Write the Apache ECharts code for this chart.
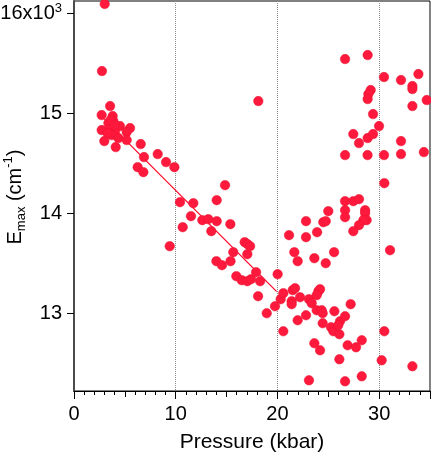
<!DOCTYPE html>
<html>
<head>
<meta charset="utf-8">
<script src="https://cdn.jsdelivr.net/npm/echarts@6/dist/echarts.min.js"></script>
<style>
html,body{margin:0;padding:0;background:#fff;}
#chart{width:431px;height:453px;}
</style>
</head>
<body>
<div id="chart"></div>
<script>
// Pressure (kbar)
var pressure = [
  3.02,2.75,3.55,2.72,3.80,3.38,3.87,2.72,3.54,4.52,4.03,5.51,5.18,3.70,4.36,2.98,4.10,5.18,6.56,6.88,8.23,9.05,9.87,6.26,6.82,3.60,4.00,3.30,
  10.42,11.73,14.03,14.85,11.50,10.69,12.62,13.20,14.03,13.50,15.37,9.41,16.78,17.06,17.31,15.66,17.04,14.00,14.55,15.39,15.96,16.49,17.04,17.40,17.90,18.30,18.10,20.02,20.32,20.58,19.76,18.95,20.58,18.12,
  21.50,21.73,21.40,21.40,22.22,23.10,23.37,24.03,24.19,23.86,23.86,24.35,24.45,25.60,27.20,22.81,21.99,24.45,25.27,25.50,26.09,26.15,25.98,26.65,23.63,24.19,26.90,27.73,28.29,26.09,30.51,30.25,33.27,23.10,26.65,28.29,
  21.14,21.66,21.99,22.81,22.81,23.63,23.90,24.51,24.75,25.00,24.75,25.57,26.65,27.46,28.02,26.65,26.65,28.62,28.62,28.77,28.45,28.02,27.46,31.07,30.51,
  26.65,28.86,30.48,32.15,34.40,32.15,27.46,28.02,28.87,29.40,29.99,29.40,29.17,28.94,28.87,26.65,28.87,30.48,32.15,33.27,33.27,33.86,34.68,33.27
];
// Emax (x10^3 cm^-1)
var emax = [
  16.09,15.42,15.07,14.98,14.97,14.90,14.92,14.83,14.85,14.87,14.82,14.85,14.81,14.78,14.75,14.72,14.66,14.73,14.69,14.56,14.59,14.51,14.46,14.46,14.41,14.93,14.88,14.80,
  14.11,14.10,14.13,14.28,13.97,13.86,13.93,13.94,13.92,13.82,13.89,13.67,13.71,13.69,13.67,13.61,13.59,13.52,13.48,13.52,13.37,13.33,13.32,13.34,13.41,13.32,13.17,13.39,13.14,13.20,13.07,13.00,12.82,15.12,
  13.23,13.25,13.12,13.09,13.16,13.14,13.10,13.22,13.24,13.18,13.03,13.03,13.00,13.02,13.09,12.98,12.93,12.90,12.86,12.82,12.79,12.92,12.88,12.97,12.70,12.63,12.68,12.66,12.73,12.54,12.82,12.53,12.47,12.33,12.32,12.37,
  13.78,13.61,13.52,13.92,13.76,13.55,13.81,13.91,13.92,14.02,13.50,13.61,14.12,14.12,14.14,14.03,13.96,14.03,14.00,13.93,13.93,13.88,13.82,13.63,14.30,
  14.58,14.58,14.58,14.59,14.61,14.72,14.79,14.70,14.75,14.79,14.87,14.99,15.23,15.19,15.14,15.54,15.58,15.36,15.33,15.27,15.24,15.39,15.13,15.07
];
// Linear fit line endpoints [pressure, Emax]
var fitPressure = [3.0, 19.93];
var fitEmax = [14.94, 13.216];
// Tick labels
var xTickValues = [0, 10, 20, 30];
var yTickValues = [13, 14, 15, 16];
var xAxisTitle = 'Pressure (kbar)';

var points = pressure.map(function (p, i) { return [p, emax[i]]; });
var fitData = fitPressure.map(function (p, i) { return [p, fitEmax[i]]; });

var FONT = "'Liberation Sans', Arial, Helvetica, sans-serif";
var RED = '#ff1a3d';

var chart = echarts.init(document.getElementById('chart'), null, {renderer: 'canvas'});
var baseX = {
  type: 'value', min: 0, max: 35, position: 'bottom', gridIndex: 0
};
chart.setOption({
  animation: false,
  backgroundColor: '#fff',
  grid: {
    left: 74, right: 1, top: 1, bottom: 62, containLabel: false, outerBoundsMode: 'none',
    show: true, borderColor: '#000', borderWidth: 1, backgroundColor: 'transparent'
  },
  xAxis: [
    Object.assign({}, baseX, {
      interval: 1,
      name: xAxisTitle, nameLocation: 'middle', nameGap: 41,
      nameTextStyle: {fontFamily: FONT, fontSize: 21, color: '#000'},
      axisLine: {show: true, onZero: false, lineStyle: {color: '#000', width: 1}},
      axisTick: {show: true, inside: false, length: 4, lineStyle: {color: '#000', width: 1}},
      axisLabel: {show: true, customValues: xTickValues, margin: 13, fontFamily: FONT, fontSize: 20, color: '#000'},
      splitLine: {show: false}
    }),
    Object.assign({}, baseX, {
      interval: 5,
      axisLine: {show: false},
      axisTick: {show: true, inside: false, length: 6, lineStyle: {color: '#000', width: 1}},
      axisLabel: {show: false},
      splitLine: {show: false}
    }),
    Object.assign({}, baseX, {
      interval: 10,
      axisLine: {show: false},
      axisTick: {show: true, inside: false, length: 8, lineStyle: {color: '#000', width: 1}},
      axisLabel: {show: false},
      splitLine: {show: true, lineStyle: {color: '#8c8c8c', width: 1, type: [1, 1]}}
    })
  ],
  yAxis: {
    type: 'value', min: 12.223, max: 16.12,
    axisLine: {show: true, onZero: false, lineStyle: {color: '#4a4a4a', width: 2}},
    axisTick: {show: true, inside: false, length: 7, customValues: yTickValues, lineStyle: {color: '#000', width: 1}},
    axisLabel: {
      show: true, customValues: yTickValues, margin: 12,
      fontFamily: FONT, fontSize: 20, color: '#000',
      formatter: function (v) {
        if (Math.round(v) === 16) return '{m|16x10}{s|3}';
        return '{m|' + Math.round(v) + '}';
      },
      rich: {
        m: {fontFamily: FONT, fontSize: 20, color: '#000', lineHeight: 22},
        s: {fontFamily: FONT, fontSize: 13, color: '#000', verticalAlign: 'top', lineHeight: 13}
      }
    },
    splitLine: {show: false}
  },
  graphic: [{
    type: 'text', x: 15, y: 197, rotation: Math.PI / 2, silent: true,
    style: {
      text: '{m|E}{s|max}{m| (cm}{p|-1}{m|)}',
      align: 'center', verticalAlign: 'middle',
      rich: {
        m: {fontFamily: FONT, fontSize: 20, color: '#000', lineHeight: 26},
        s: {fontFamily: FONT, fontSize: 13, color: '#000', verticalAlign: 'bottom', lineHeight: 14},
        p: {fontFamily: FONT, fontSize: 13, color: '#000', verticalAlign: 'top', lineHeight: 14}
      }
    }
  }],
  series: [
    {
      type: 'line', xAxisIndex: 0, data: fitData, symbol: 'none', z: 1,
      lineStyle: {color: '#ff0022', width: 1.2}, silent: true
    },
    {
      type: 'scatter', xAxisIndex: 0, data: points, symbol: 'circle', symbolSize: 9.5, z: 2,
      itemStyle: {color: RED, opacity: 1, borderColor: '#e8102f', borderWidth: 0.5}, silent: true
    }
  ]
});
</script>
</body>
</html>
